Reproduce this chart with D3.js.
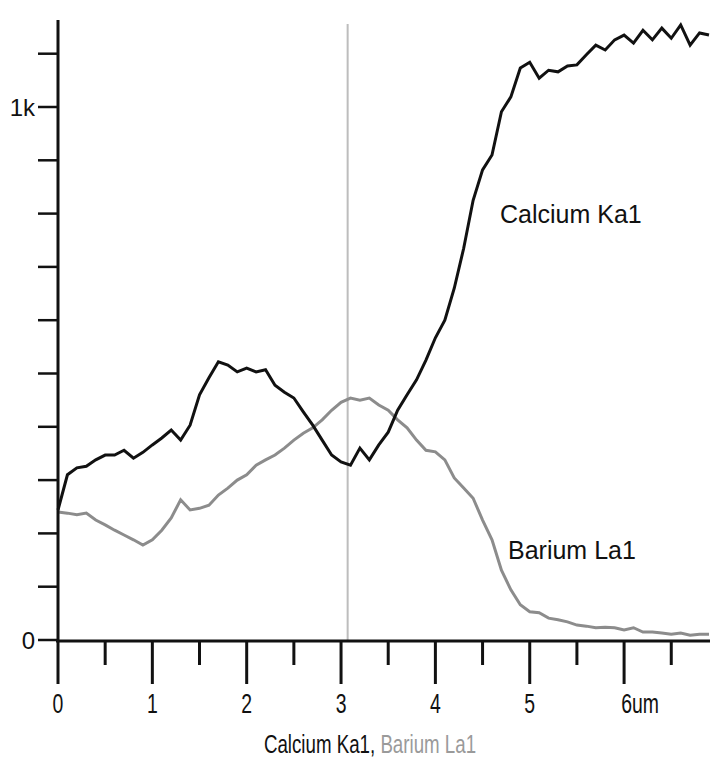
<!DOCTYPE html>
<html>
<head>
<meta charset="utf-8">
<style>
  body { margin: 0; background: #fff; }
  text { font-family: "Liberation Sans", Arial, sans-serif; }
</style>
</head>
<body>
<svg width="727" height="764"></svg>
<script src="https://d3js.org/d3.v7.min.js"></script>
<script>
// distance (um) every 0.1 from 0 to 6.9
var positions = d3.range(70).map(function(i) { return +(i * 0.1).toFixed(1); });

var calcium = [244, 310, 323, 326, 338, 347, 347, 356, 341, 352,
               366, 379, 394, 375, 403, 460, 492, 522, 516, 503,
               510, 503, 507, 478, 465, 454, 428, 403, 375, 347,
               334, 328, 360, 338, 366, 390, 431, 460, 488, 525,
               567, 600, 660, 735, 825, 882, 910, 991, 1019, 1073,
               1084, 1054, 1069, 1066, 1077, 1079, 1098, 1116, 1107, 1126,
               1135, 1120, 1144, 1126, 1148, 1129, 1154, 1116, 1139, 1135];

var barium = [240, 238, 235, 238, 225, 216, 206, 197, 188, 178,
              188, 206, 229, 263, 244, 247, 253, 272, 285, 300,
              310, 328, 338, 347, 360, 375, 388, 398, 413, 431,
              446, 454, 450, 454, 441, 431, 413, 398, 375, 356,
              353, 338, 304, 285, 266, 225, 188, 131, 94, 66,
              53, 51, 41, 38, 34, 28, 26, 23, 24, 23,
              19, 23, 15, 15, 13, 11, 13, 9, 11, 11];

var xTicks = d3.range(0, 7, 0.5);
var xLabels = ["0", "1", "2", "3", "4", "5", "6um"];
var yTicks = d3.range(0, 1200, 100);
var yLabels = { 0: "0", 1000: "1k" };
var markerX = 3.07;

var svg = d3.select("svg");
var x = d3.scaleLinear().domain([0, 6.9]).range([58, 709]);
var y = d3.scaleLinear().domain([0, 1000]).range([640, 107]);

// vertical marker
svg.append("line")
  .attr("x1", x(markerX)).attr("x2", x(markerX))
  .attr("y1", 24).attr("y2", 640)
  .attr("stroke", "#bdbdbd").attr("stroke-width", 2);

var line = function(vals) {
  return d3.line()
    .x(function(d, i) { return x(positions[i]); })
    .y(function(d) { return y(d); })(vals);
};

svg.append("path").attr("d", line(barium))
  .attr("fill", "none").attr("stroke", "#8c8c8c").attr("stroke-width", 3);
svg.append("path").attr("d", line(calcium))
  .attr("fill", "none").attr("stroke", "#111").attr("stroke-width", 3);

// y axis
svg.append("line").attr("x1", 58).attr("x2", 58).attr("y1", 20).attr("y2", 642)
  .attr("stroke", "#111").attr("stroke-width", 3);
yTicks.forEach(function(t) {
  svg.append("line").attr("x1", 38).attr("x2", 58).attr("y1", y(t)).attr("y2", y(t))
    .attr("stroke", "#111").attr("stroke-width", 2.5);
  if (yLabels[t] !== undefined) {
    svg.append("text").attr("x", 35).attr("y", y(t) + 9).attr("text-anchor", "end")
      .attr("font-size", 24).attr("fill", "#111").text(yLabels[t]);
  }
});

// x axis
svg.append("line").attr("x1", 56).attr("x2", 710).attr("y1", 641).attr("y2", 641)
  .attr("stroke", "#111").attr("stroke-width", 3);
xTicks.forEach(function(t, i) {
  var major = i % 2 === 0;
  svg.append("line").attr("x1", x(t)).attr("x2", x(t))
    .attr("y1", 641).attr("y2", major ? 684 : 665)
    .attr("stroke", "#111").attr("stroke-width", 3);
  if (major) {
    var lx = x(t) + (t === 6 ? 16 : 0);
    svg.append("text").attr("x", lx).attr("y", 713)
      .attr("text-anchor", "middle").attr("font-size", 27).attr("fill", "#111")
      .attr("transform", "translate(" + lx + ",0) scale(0.72,1) translate(" + (-lx) + ",0)")
      .text(xLabels[i / 2]);
  }
});

// caption
var cap = svg.append("text").attr("x", 370).attr("y", 753).attr("text-anchor", "middle")
  .attr("font-size", 26).attr("transform", "translate(370,0) scale(0.72,1) translate(-370,0)");
cap.append("tspan").attr("fill", "#111").text("Calcium Ka1, ");
cap.append("tspan").attr("fill", "#9a9a9a").text("Barium La1");

// in-plot labels
svg.append("text").attr("x", 500).attr("y", 223).attr("font-size", 25).attr("fill", "#111").text("Calcium Ka1");
svg.append("text").attr("x", 508).attr("y", 559).attr("font-size", 25).attr("fill", "#111").text("Barium La1");
</script>
</body>
</html>
